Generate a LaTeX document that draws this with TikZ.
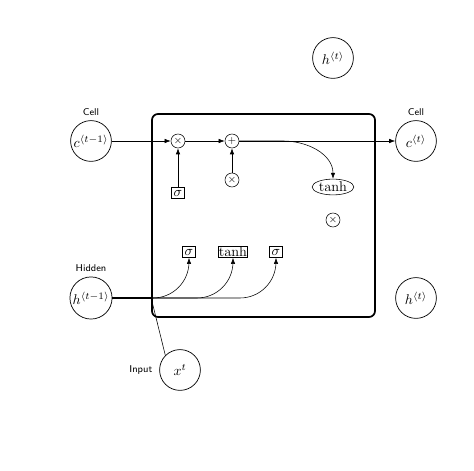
\documentclass[tikz,border=0pt]{standalone}
\usetikzlibrary{calc,positioning,arrows.meta,shapes.geometric}

\begin{document}
\begin{tikzpicture}[
    >={Latex[length=1.5mm,width=1.1mm]},
    % styles
    cellbox/.style={% the main box
      rectangle,
      rounded corners=1.5mm,
      draw,
      very thick
    },
    operator/.style={% for + and x
      circle,
      draw,
      inner sep=0pt,
      minimum size=3.5mm,
      font=\scriptsize
    },
    tanhfun/.style={% tanh inside the cell
      ellipse,
      draw,
      inner sep=0.5pt
    },
    ext/.style={% external inputs and outputs
      circle,
      draw,
      line width=.5pt,
      minimum size=1.02cm,
      inner sep=1pt
    },
    gate/.style={% internal gates
      rectangle,
      draw,
      minimum width=3.3mm,
      minimum height=2.8mm,
      inner sep=0.5pt
    },
    mylabel/.style={font=\scriptsize\sffamily},
    bigcurve/.style={rounded corners=.9cm}
  ]
  \useasboundingbox (0,0) rectangle (11.85,11.775);

  % the cell
  \node[cellbox, minimum width=5.575cm, minimum height=5.075cm] (cell) at (6.5875,6.3875) {};

  % gates and operators
  \node[operator] (mux1) at (4.45,8.25) {$\times$};
  \node[operator] (add1) at (5.8,8.25) {$+$};
  \node[operator] (mux2) at (5.8,7.275) {$\times$};
  \node[gate] (sigma1) at (4.45,6.95) {$\sigma$};
  \node[tanhfun] (tanh1) at (8.325,7.1) {$\tanh$};
  \node[operator] (mux3) at (8.325,6.275) {$\times$};
  \node[gate] (sigma2) at (4.725,5.475) {$\sigma$};
  \node[gate] (tanh2) at (5.825,5.475) {$\tanh$};
  \node[gate] (sigma3) at (6.9,5.475) {$\sigma$};

  % inputs and outputs
  \node[ext] (cin) at (2.275,8.25) {$c^{\langle t-1\rangle}$};
  \node[ext] (hin) at (2.275,4.325) {$h^{\langle t-1\rangle}$};
  \node[ext] (xin) at (4.5,2.525) {$x^{t}$};
  \node[ext] (cout) at (10.4,8.25) {$c^{\langle t\rangle}$};
  \node[ext] (hout) at (10.4,4.325) {$h^{\langle t\rangle}$};
  \node[ext] (htop) at (8.325,10.325) {$h^{\langle t\rangle}$};

  % labels
  \node[mylabel, above=0pt of cin] {Cell};
  \node[mylabel, above=0pt of cout] {Cell};
  \node[mylabel, above=0pt of hin] {Hidden};
  \node[mylabel, left=0.5mm of xin] {Input};

  % junction on the left side of the cell
  \coordinate (jn) at (cell.west |- hin);

  % cell state line
  \draw[->] (cin) -- (mux1);
  \draw[->] (mux1) -- (add1);
  \draw[->] (add1) -- (cout);
  \draw[->] (sigma1) -- (mux1);
  \draw[->] (mux2) -- (add1);
  \draw[->] (add1.east) -- ++(1.1,0) to[out=0,in=90] (tanh1.north);

  % hidden state and input
  \draw[thick] (hin) -- (jn);
  \draw (xin.north west) -- (jn);
  \draw[->, bigcurve] (jn) -| (sigma2);
  \draw[->, bigcurve] (jn) -| (tanh2);
  \draw[->, bigcurve] (jn) -| (sigma3);
\end{tikzpicture}
\end{document}
